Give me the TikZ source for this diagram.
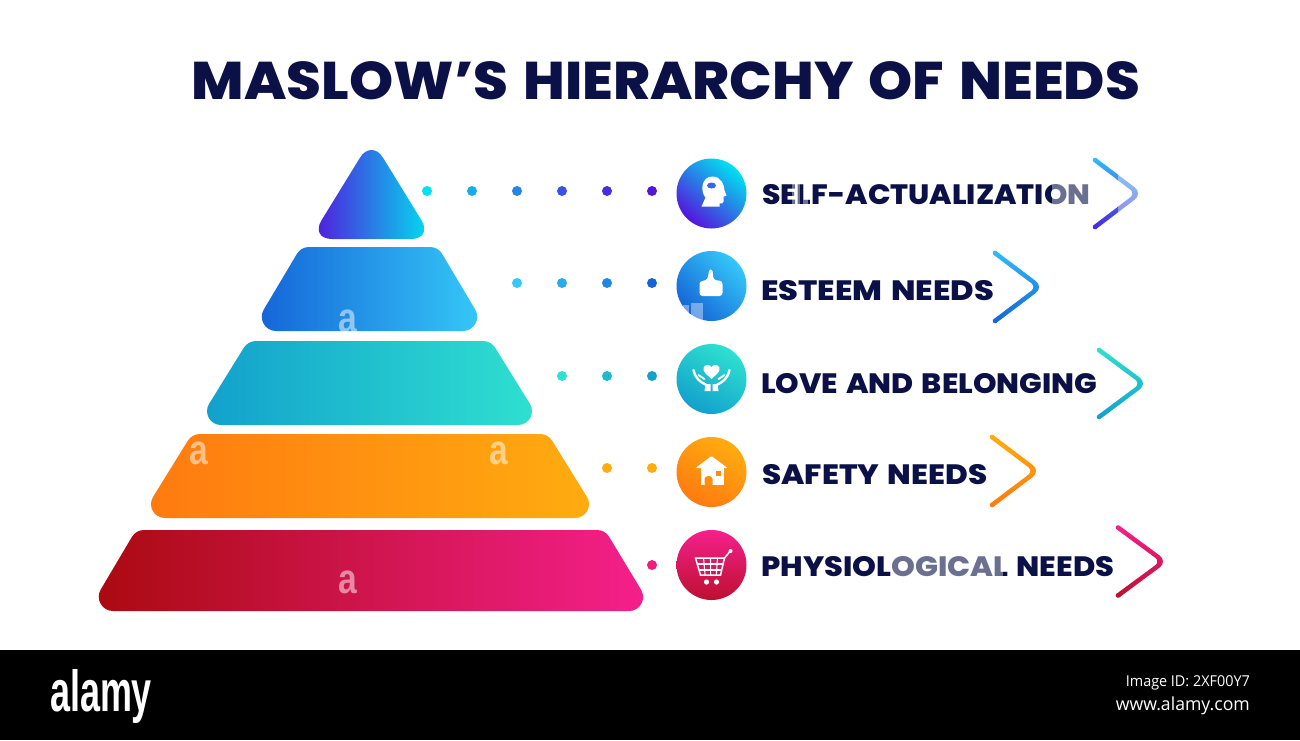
\documentclass[tikz,border=0pt]{standalone}
\usepackage{fontspec}
\setmainfont{Poppins}[BoldFont={Poppins ExtraBold}, WordSpace=1.4]
\newfontfamily\wmfont{Liberation Sans}
\newfontfamily\barfont{Open Sans}
\usetikzlibrary{calc}
\definecolor{navy}{HTML}{0B1146}
\definecolor{violetA}{HTML}{5414DC}
\definecolor{blueA}{HTML}{1F8FE4}
\definecolor{cyanA}{HTML}{00E2F0}
\definecolor{blueB}{HTML}{1565D8}
\definecolor{skyB}{HTML}{35C8F8}
\definecolor{tealC}{HTML}{12A0CC}
\definecolor{aquaC}{HTML}{2FE0D0}
\definecolor{orangeD}{HTML}{FF7A10}
\definecolor{amberD}{HTML}{FFAC10}
\definecolor{redE}{HTML}{AA0A10}
\definecolor{pinkE}{HTML}{F5208C}
\definecolor{crimE}{HTML}{BC1030}
% previous corner, corner, next corner, trim, control
\newcommand{\bend}[5]{($#2!#4!#1$) .. controls ($#2!#5!#1$) and ($#2!#5!#3$) .. ($#2!#4!#3$)}
% top left, top right, bottom right, bottom left
\newcommand{\tier}[4]{\bend{#4}{#1}{#2}{8pt}{3pt} -- \bend{#1}{#2}{#3}{8pt}{3pt} -- \bend{#2}{#3}{#4}{25pt}{14pt} -- \bend{#3}{#4}{#1}{25pt}{14pt} -- cycle}
% x, y, width, half height, top colour, bottom colour
\newcommand{\chevron}[6]{%
  \fill[#5] (#1,#2-#4) circle (2.3pt);
  \fill[#6] (#1,#2+#4) circle (2.3pt);
  \shade[top color=#5, bottom color=#6]
    (#1+1.4,#2-#4-1.8) -- \bend{(#1+1.4,#2-#4-1.8)}{(#1+#3+3.7,#2)}{(#1+1.4,#2+#4+1.8)}{10pt}{4.5pt} -- (#1+1.4,#2+#4+1.8) --
    (#1-1.4,#2+#4-1.8) -- \bend{(#1-1.4,#2+#4-1.8)}{(#1+#3-3.7,#2)}{(#1-1.4,#2-#4+1.8)}{6pt}{3pt} -- (#1-1.4,#2-#4+1.8) -- cycle;}
\begin{document}
\begin{tikzpicture}[x=1pt, y=-1pt,
    bubble/.style={circle, minimum size=70pt, inner sep=0pt},
    needlabel/.style={anchor=west, inner sep=0pt, font=\fontsize{28}{28}\selectfont\bfseries, text=navy},
    ghost/.style={text=white, text opacity=0.5, inner sep=0pt, font=\wmfont\bfseries\fontsize{42}{42}\selectfont},
    every node/.style={font=\small}]
  \useasboundingbox (0,0) rectangle (1300,740);
  \fill[white] (0,0) rectangle (1300,740);
  \fill[black] (0,650) rectangle (1300,740);
  % title
  \node[anchor=center, inner sep=0pt, text=navy, font=\fontsize{53}{53}\selectfont\bfseries] (title) at (666,81) {\resizebox{948pt}{\height}{MASLOW’S HIERARCHY OF NEEDS}};
  % pyramid
  \shade[rounded corners=22, left color=violetA, middle color=blueA, right color=cyanA] (371.5,139) -- (433,239) -- (310,239) -- cycle;
  \shade[left color=blueB, right color=skyB] \tier{(301,247)}{(438,247)}{(488,331)}{(251,331)};
  \shade[left color=tealC, right color=aquaC] \tier{(248,341)}{(491,341)}{(543,425)}{(196,425)};
  \shade[left color=orangeD, right color=amberD] \tier{(192,434)}{(548,434)}{(600,518)}{(140,518)};
  \shade[left color=redE, right color=pinkE] \tier{(136,530)}{(605,530)}{(654,611)}{(88,611)};
  % dots
  \foreach \px/\pm in {427/100,472/75,517/55,562/30,607/12,652/0}
    \fill[cyanA!\pm!violetA] (\px,191) circle (5pt);
  \foreach \px/\pm in {517/100,562/70,607/35,652/0}
    \fill[skyB!\pm!blueB] (\px,283) circle (5pt);
  \foreach \px/\pm in {562/100,607/40,652/0}
    \fill[aquaC!\pm!tealC] (\px,376) circle (5pt);
  \foreach \px in {607,652}
    \fill[amberD] (\px,468) circle (5pt);
  \fill[pinkE!85!crimE] (652,565) circle (5pt);
  % bubbles
  \node[bubble, top color=cyanA, middle color=blueA!85!violetA, bottom color=violetA, shading angle=-40] (selfB) at (711.5,193.5) {};
  \node[bubble, top color=skyB, bottom color=blueB, shading angle=-45] (esteemB) at (711.5,286) {};
  \node[bubble, top color=aquaC, bottom color=tealC, shading angle=-30] (loveB) at (711.5,379) {};
  \node[bubble, top color=amberD, bottom color=orangeD, shading angle=-30] (safeB) at (711.5,472) {};
  \node[bubble, top color=pinkE, bottom color=crimE] (bodyB) at (711.5,565) {};
  % icons
  \begin{scope}[shift={(selfB.center)}]
    \fill[white] (-10,13) -- (-6,4) .. controls (-11,-1) and (-11,-17) .. (1,-17) .. controls (9,-17) and (13,-9) .. (13,-3) -- (15,2) -- (12,3) -- (12,8) .. controls (12,10) and (10,10) .. (8,10) -- (8,13) -- cycle;
    \fill[blueA!70!violetA] (0,-8) ellipse (4.5pt and 3pt);
  \end{scope}
  \begin{scope}[shift={(esteemB.center)}]
    \fill[white, rounded corners=3] (-12,-5) -- (-6,-5) -- (-3,-9) -- (-3,-16) -- (1,-17) -- (2,-6) -- (11,-5) -- (11,10) -- (-12,10) -- cycle;
  \end{scope}
  \begin{scope}[shift={(loveB.center)}]
    \fill[white] (0,0) .. controls (-4,-4) and (-9,-7) .. (-8,-11) .. controls (-7,-15) and (-2,-15) .. (0,-12) .. controls (2,-15) and (7,-15) .. (8,-11) .. controls (9,-7) and (4,-4) .. (0,0) -- cycle;
    \foreach \s in {-1,1} {
      \begin{scope}[xscale=\s]
        \draw[white, line width=2.4pt, line cap=round] (18,-9) .. controls (16,0) and (11,3) .. (5,6);
        \draw[white, line width=1.8pt, line cap=round] (13,-4) -- (7,0);
        \fill[white] (1,5) -- (6,5) -- (7,12) -- (1,12) -- cycle;
      \end{scope}
    }
  \end{scope}
  \begin{scope}[shift={(safeB.center)}]
    \fill[white, rounded corners=1] (0,-16) -- (16,-4) -- (-16,-4) -- cycle;
    \fill[white] (-11,-5) rectangle (12,13);
    \fill[orangeD!60!amberD] (-7,13) -- (-7,7) .. controls (-7,3) and (1,3) .. (1,7) -- (1,13) -- cycle;
    \fill[orangeD!60!amberD] (4,-1) rectangle (9,4);
  \end{scope}
  \begin{scope}[shift={(bodyB.center)}, white, line width=1.1pt]
    \draw[line width=1.5pt] (-16,-7) -- (13,-7) -- (9,10) -- (-11,10) -- cycle;
    \draw (-14,-1) -- (11,-1) (-12,5) -- (10,5);
    \foreach \t in {-8,-1,6} \draw (\t,-7) -- (\t*0.8,10);
    \draw[line width=1.5pt, line cap=round] (13,-7) -- (18,-13);
    \fill (19,-14) circle (2pt);
    \fill (-5,17) circle (2.6pt) (5,17) circle (2.6pt);
  \end{scope}
  % labels
  \node[needlabel] (selfL) at (762,195) {\resizebox{328pt}{\height}{SELF-ACTUALIZATION}};
  \node[needlabel] (esteemL) at (761,291) {\resizebox{233pt}{\height}{ESTEEM NEEDS}};
  \node[needlabel] (loveL) at (761,384) {\resizebox{336pt}{\height}{LOVE AND BELONGING}};
  \node[needlabel] (safeL) at (762,475) {\resizebox{225pt}{\height}{SAFETY NEEDS}};
  \node[needlabel] (bodyL) at (761,567) {\resizebox{353pt}{\height}{PHYSIOLOGICAL NEEDS}};
  % arrows
  \chevron{1095}{193.5}{44}{33.5}{skyB!80!blueA}{violetA!85!blueA}
  \chevron{995}{287}{45}{34}{skyB!80!blueA}{blueB}
  \chevron{1099}{383.5}{45}{33.5}{aquaC}{tealC}
  \chevron{992}{471}{45}{34}{amberD}{orangeD}
  \chevron{1118}{561.5}{46}{34}{pinkE}{crimE}
  % watermark
  \foreach \wx/\wy [count=\wi] in {199/453,499/453,348/582,348/321}
    \node[ghost] (mark\wi) at (\wx,\wy) {\scalebox{0.8}[1]{a}};
  \foreach \gx/\gy/\gX/\gY in {792/183/800/206,803/183/808/206,1052/183/1090/206,892/555/1003/579,1118/175/1141/212,691/303/703/320,683/305/689/313}
    \fill[white, opacity=0.4] (\gx,\gy) rectangle (\gX,\gY);
  % stock bar
  \node[text=white, inner sep=0pt, font=\wmfont\bfseries\fontsize{58}{58}\selectfont] (logo) at (101,696) {\scalebox{0.62}[1]{alamy}};
  \node[text=white, anchor=east, inner sep=0pt, font=\barfont\fontsize{15}{15}\selectfont] (imageid) at (1250,683) {\scalebox{0.96}[1]{Image ID: 2XF00Y7}};
  \node[text=white, anchor=east, inner sep=0pt, font=\barfont\fontsize{18}{18}\selectfont] (website) at (1250,706) {\scalebox{0.98}[1]{www.alamy.com}};
\end{tikzpicture}
\end{document}
